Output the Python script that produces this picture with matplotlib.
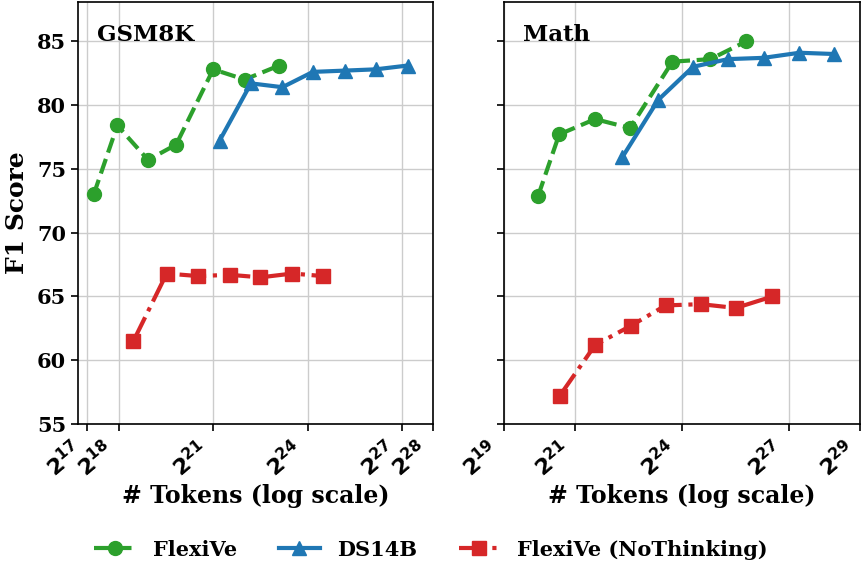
import numpy as np
import matplotlib
matplotlib.use("Agg")
import matplotlib.pyplot as plt

plt.rcParams['font.family'] = 'DejaVu Serif'
plt.rcParams['font.weight'] = 'bold'
plt.rcParams['mathtext.fontset'] = 'dejavusans'
plt.rcParams['mathtext.default'] = 'bf'

# token counts as powers of two (log2 of # tokens)
gsm_flexive_x = [17.2, 17.95, 18.93, 19.82, 21.0, 22.0, 23.1]
gsm_flexive_y = [73.0, 78.4, 75.7, 76.9, 82.8, 82.0, 83.1]
gsm_ds14b_x = [21.2, 22.2, 23.2, 24.17, 25.18, 26.17, 27.19]
gsm_ds14b_y = [77.2, 81.7, 81.4, 82.6, 82.7, 82.8, 83.1]
gsm_nothink_x = [18.46, 19.52, 20.52, 21.53, 22.5, 23.52, 24.49]
gsm_nothink_y = [61.5, 66.8, 66.6, 66.7, 66.5, 66.8, 66.6]

math_flexive_x = [19.96, 20.55, 21.56, 22.54, 23.73, 24.8, 25.81]
math_flexive_y = [72.9, 77.7, 78.9, 78.2, 83.4, 83.6, 85.0]
math_ds14b_x = [22.32, 23.33, 24.31, 25.29, 26.29, 27.3, 28.28]
math_ds14b_y = [75.9, 80.4, 83.0, 83.6, 83.7, 84.1, 84.0]
math_nothink_x = [20.56, 21.56, 22.56, 23.54, 24.53, 25.51, 26.54]
math_nothink_y = [57.2, 61.2, 62.7, 64.3, 64.4, 64.1, 65.0]

gsm_ticks = [17, 18, 21, 24, 27, 28]
math_ticks = [19, 21, 24, 27, 29]

panels = [
    ("GSM8K", gsm_flexive_x, gsm_flexive_y, gsm_ds14b_x, gsm_ds14b_y,
     gsm_nothink_x, gsm_nothink_y, gsm_ticks, (16.7, 28)),
    ("Math", math_flexive_x, math_flexive_y, math_ds14b_x, math_ds14b_y,
     math_nothink_x, math_nothink_y, math_ticks, (19, 29)),
]

fig = plt.figure(figsize=(8.62, 5.67), dpi=100)
ax1 = fig.add_axes([0.0905, 0.252, 0.4122, 0.745])
ax2 = fig.add_axes([0.5847, 0.252, 0.413, 0.745], sharey=ax1)

for ax, (name, fx, fy, dx, dy, nx, ny, ticks, xlim) in zip([ax1, ax2], panels):
    ax.plot(2.0 ** np.array(fx), fy, color='#2ca02c', linestyle='--', marker='o',
            linewidth=3, markersize=10, label='FlexiVe')
    ax.plot(2.0 ** np.array(dx), dy, color='#1f77b4', linestyle='-', marker='^',
            linewidth=3, markersize=10, label='DS14B')
    ax.plot(2.0 ** np.array(nx), ny, color='#d62728', linestyle='-.', marker='s',
            linewidth=3, markersize=10, label='FlexiVe (NoThinking)')
    ax.set_xscale('log', base=2)
    ax.set_xlim(2.0 ** xlim[0], 2.0 ** xlim[1])
    ax.minorticks_off()
    ax.set_xticks([2.0 ** t for t in ticks])
    ax.set_xticklabels([r'$2^{%d}$' % t for t in ticks], rotation=40, ha='right',
                       fontsize=16)
    ax.grid(True, color='#cccccc', linewidth=1)
    ax.set_xlabel('# Tokens (log scale)', fontsize=17, fontweight='bold', labelpad=1)
    ax.text(0.053, 0.92, name, transform=ax.transAxes, fontsize=16.5,
            fontweight='bold', va='center')
    for s in ax.spines.values():
        s.set_linewidth(1.2)
    ax.tick_params(width=1.2, length=5)
    ax.tick_params(axis='x', pad=5)

ax1.set_ylim(55, 88.1)
ax1.set_yticks([55, 60, 65, 70, 75, 80, 85])
ax1.tick_params(axis='y', labelsize=15)
ax1.set_ylabel('F1 Score', fontsize=18, fontweight='bold', labelpad=6)
plt.setp(ax2.get_yticklabels(), visible=False)

handles, labels = ax1.get_legend_handles_labels()
fig.legend(handles, labels, loc='lower center', bbox_to_anchor=(0.5, -0.02),
           ncol=3, frameon=False, fontsize=15, handlelength=2.0, columnspacing=2.0)

fig.savefig('out.png', dpi=100)
